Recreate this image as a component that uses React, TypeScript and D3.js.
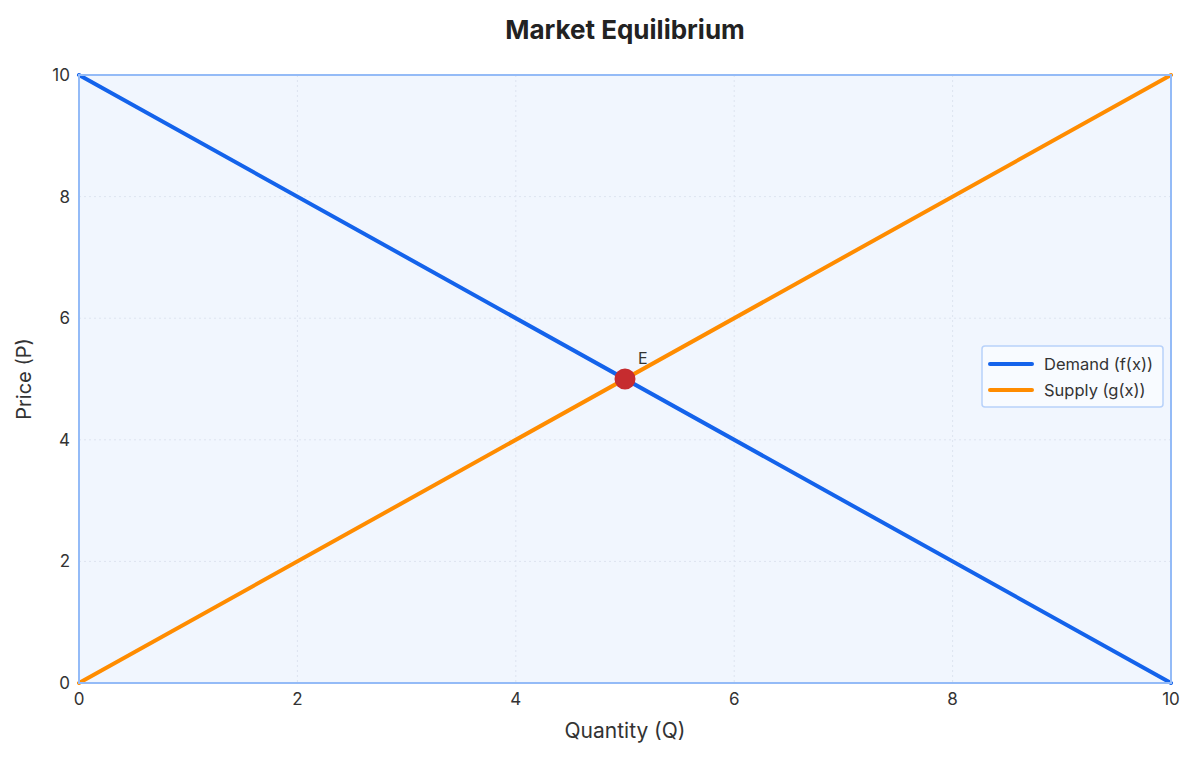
import React from 'react';
import * as d3 from 'd3';

// Data
const quantities = [0, 10];
const demandPrices = [10, 0];
const supplyPrices = [0, 10];
const equilibrium = { q: 5, p: 5, label: 'E' };
const xTicks = [0, 2, 4, 6, 8, 10];
const yTicks = [0, 2, 4, 6, 8, 10];
const seriesNames = ['Demand (f(x))', 'Supply (g(x))'];
const seriesColors = ['#1463eb', '#ff8c00'];

const W = 1200;
const H = 760;
const margin = { top: 75, right: 29, bottom: 77, left: 79 };
const FONT = 'Inter, "Noto Sans", sans-serif';

export default function App() {
  const innerW = W - margin.left - margin.right;
  const innerH = H - margin.top - margin.bottom;

  const x = d3.scaleLinear().domain([0, 10]).range([0, innerW]);
  const y = d3.scaleLinear().domain([0, 10]).range([innerH, 0]);

  const line = d3
    .line<[number, number]>()
    .x(d => x(d[0]))
    .y(d => y(d[1]));

  const series = [demandPrices, supplyPrices].map(vals =>
    quantities.map((q, i) => [q, vals[i]] as [number, number])
  );

  const legendX = 903;
  const legendY = 271;

  return (
    <div style={{ margin: -8 }}>
      <svg width={W} height={H} style={{ display: 'block', background: '#fff', fontFamily: FONT }}>
        <text x={625} y={39} textAnchor="middle" fontSize={26} fontWeight={700} fill="#222">
          Market Equilibrium
        </text>
        <g transform={`translate(${margin.left},${margin.top})`}>
          <rect x={0} y={0} width={innerW} height={innerH} fill="#f1f6fe" />
          {/* Grid */}
          {xTicks.slice(1, -1).map(t => (
            <line key={'gx' + t} x1={x(t)} x2={x(t)} y1={0} y2={innerH}
              stroke="#dde4f0" strokeWidth={1} strokeDasharray="2,3" />
          ))}
          {yTicks.slice(1, -1).map(t => (
            <line key={'gy' + t} x1={0} x2={innerW} y1={y(t)} y2={y(t)}
              stroke="#dde4f0" strokeWidth={1} strokeDasharray="2,3" />
          ))}
          {/* Lines */}
          {series.map((s, i) => (
            <path key={i} d={line(s) || ''} fill="none" stroke={seriesColors[i]}
              strokeWidth={4} strokeLinecap="round" />
          ))}
          {/* Equilibrium */}
          <circle cx={x(equilibrium.q)} cy={y(equilibrium.p)} r={10.5} fill="#c62c2f" />
          <text x={x(equilibrium.q) + 13} y={y(equilibrium.p) - 15} fontSize={16} fill="#333">
            {equilibrium.label}
          </text>
          {/* Frame */}
          <rect x={0} y={0} width={innerW} height={innerH} fill="none" stroke="#94bbf7" strokeWidth={2} />
          {/* Tick labels */}
          {xTicks.map(t => (
            <text key={'tx' + t} x={x(t)} y={innerH + 22} textAnchor="middle" fontSize={17} fill="#333">
              {t}
            </text>
          ))}
          {yTicks.map(t => (
            <text key={'ty' + t} x={-9} y={y(t) + 6} textAnchor="end" fontSize={17} fill="#333">
              {t}
            </text>
          ))}
          <text x={innerW / 2} y={innerH + 55} textAnchor="middle" fontSize={21} fill="#333">
            Quantity (Q)
          </text>
          <text transform={`translate(-48,${innerH / 2}) rotate(-90)`} textAnchor="middle" fontSize={20} fill="#333">
            Price (P)
          </text>
          {/* Legend */}
          <g transform={`translate(${legendX},${legendY})`}>
            <rect x={0} y={0} width={181} height={61} rx={3} fill="#f8fbff" stroke="#b8d2fa" strokeWidth={1.5} />
            {seriesNames.map((n, i) => (
              <g key={n} transform={`translate(0,${18 + i * 26})`}>
                <line x1={8} x2={50} y1={0} y2={0} stroke={seriesColors[i]} strokeWidth={4} strokeLinecap="round" />
                <text x={62} y={5.5} fontSize={16.5} fill="#333">{n}</text>
              </g>
            ))}
          </g>
        </g>
      </svg>
    </div>
  );
}
